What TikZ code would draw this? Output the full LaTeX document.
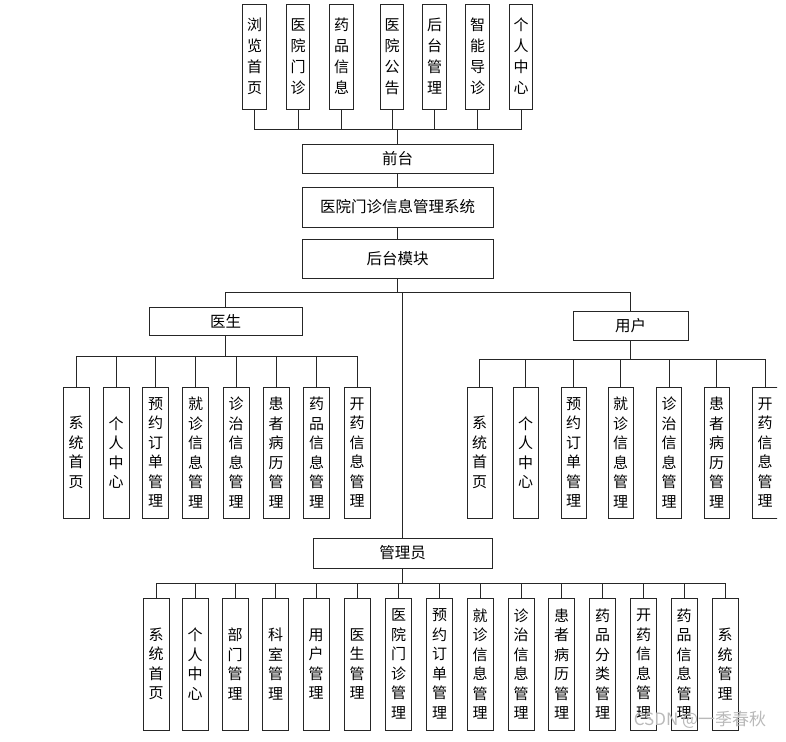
\documentclass[tikz,border=0pt]{standalone}
\usepackage{fontspec}
\newfontfamily\cjk{Noto Sans CJK SC}
\begin{document}
\begin{tikzpicture}[x=1pt,y=-1pt,
  line/.style={draw=black!85, line width=0.9pt},
  hbox/.style={draw=black!85, line width=0.9pt, inner sep=0pt, align=center, font=\cjk\fontsize{15.5}{18}\selectfont},
  vtop/.style={draw=black!85, line width=0.9pt, inner sep=0pt, minimum width=23.5, minimum height=105, align=center, font=\cjk\fontsize{15}{21}\selectfont},
  vkid/.style={draw=black!85, line width=0.9pt, inner sep=0pt, minimum width=26, minimum height=131, align=center, font=\cjk\fontsize{15}{19.5}\selectfont},
  wmark/.style={text=gray!55, font=\cjk\fontsize{17}{20}\selectfont, inner sep=0pt}
]
\useasboundingbox (0,0) rectangle (786,741);

% top row
\node[vtop] (t1) at (254.5,56.5) {浏\\览\\首\\页};
\node[vtop] (t2) at (298,56.5) {医\\院\\门\\诊};
\node[vtop] (t3) at (341.5,56.5) {药\\品\\信\\息};
\node[vtop] (t4) at (392,56.5) {医\\院\\公\\告};
\node[vtop] (t5) at (434.5,56.5) {后\\台\\管\\理};
\node[vtop] (t6) at (477.5,56.5) {智\\能\\导\\诊};
\node[vtop] (t7) at (521,56.5) {个\\人\\中\\心};

% main column
\node[hbox, minimum width=191, minimum height=29] (qt) at (397.5,158.5) {前台};
\node[hbox, minimum width=191, minimum height=40] (sys) at (397.5,207) {医院门诊信息管理系统};
\node[hbox, minimum width=191, minimum height=39] (ht) at (397.5,258.5) {后台模块};

\coordinate (tb) at (397.5,129);
\foreach \n in {t1,t2,t3,t4,t5,t6,t7} \draw[line] (tb) -| (\n.south);
\draw[line] (tb) -- (qt.north);
\draw[line] (qt.south) -- (sys.north);
\draw[line] (sys.south) -- (ht.north);

% second level
\node[hbox, minimum width=153, minimum height=28] (doc) at (225.5,321) {医生};
\node[hbox, minimum width=115, minimum height=29] (usr) at (630.5,325.5) {用户};
\node[hbox, minimum width=179, minimum height=30] (adm) at (402.5,553) {管理员};

\coordinate (hb) at (397.5,293);
\draw[line] (ht.south) -- (hb);
\draw[line] (doc.north) -- ++(0,-14) -| (usr.north);
\draw[line] (adm.north) -- (adm.north |- hb);

% doctor children
\node[vkid] (d1) at (76,452.5) {系\\统\\首\\页};
\node[vkid] (d2) at (116,452.5) {个\\人\\中\\心};
\node[vkid] (d3) at (155.5,452.5) {预\\约\\订\\单\\管\\理};
\node[vkid] (d4) at (195.5,452.5) {就\\诊\\信\\息\\管\\理};
\node[vkid] (d5) at (236,452.5) {诊\\治\\信\\息\\管\\理};
\node[vkid] (d6) at (276,452.5) {患\\者\\病\\历\\管\\理};
\node[vkid] (d7) at (316.5,452.5) {药\\品\\信\\息\\管\\理};
\node[vkid] (d8) at (357,452.5) {开\\药\\信\\息\\管\\理};
\coordinate (db) at (225.5,356);
\draw[line] (doc.south) -- (db);
\foreach \n in {d1,d2,d3,d4,d5,d6,d7,d8} \draw[line] (db) -| (\n.north);

% user children
\node[vkid, minimum width=25] (u1) at (479.5,452.5) {系\\统\\首\\页};
\node[vkid, minimum width=25] (u2) at (525.5,452.5) {个\\人\\中\\心};
\node[vkid, minimum width=25] (u3) at (573.5,452.5) {预\\约\\订\\单\\管\\理};
\node[vkid, minimum width=25] (u4) at (620.5,452.5) {就\\诊\\信\\息\\管\\理};
\node[vkid, minimum width=25] (u5) at (669,452.5) {诊\\治\\信\\息\\管\\理};
\node[vkid, minimum width=25] (u6) at (716.5,452.5) {患\\者\\病\\历\\管\\理};
\begin{scope}
\clip (0,0) rectangle (777,741);
\node[vkid, minimum width=26] (u7) at (765,452.5) {开\\药\\信\\息\\管\\理};
\end{scope}
\coordinate (ub) at (630.5,359);
\draw[line] (usr.south) -- (ub);
\foreach \n in {u1,u2,u3,u4,u5,u6,u7} \draw[line] (ub) -| (\n.north);

% admin children
\node[vkid, minimum height=132] (a1) at (156,664) {系\\统\\首\\页};
\node[vkid, minimum height=132] (a2) at (195,664) {个\\人\\中\\心};
\node[vkid, minimum height=132] (a3) at (235,664) {部\\门\\管\\理};
\node[vkid, minimum height=132] (a4) at (275.5,664) {科\\室\\管\\理};
\node[vkid, minimum height=132] (a5) at (316,664) {用\\户\\管\\理};
\node[vkid, minimum height=132] (a6) at (357,664) {医\\生\\管\\理};
\node[vkid, minimum height=132] (a7) at (398.5,664) {医\\院\\门\\诊\\管\\理};
\node[vkid, minimum height=132] (a8) at (439.5,664) {预\\约\\订\\单\\管\\理};
\node[vkid, minimum height=132] (a9) at (480,664) {就\\诊\\信\\息\\管\\理};
\node[vkid, minimum height=132] (a10) at (521,664) {诊\\治\\信\\息\\管\\理};
\node[vkid, minimum height=132] (a11) at (561.5,664) {患\\者\\病\\历\\管\\理};
\node[vkid, minimum height=132] (a12) at (602.5,664) {药\\品\\分\\类\\管\\理};
\node[vkid, minimum height=132] (a13) at (643.5,664) {开\\药\\信\\息\\管\\理};
\node[vkid, minimum height=132] (a14) at (684,664) {药\\品\\信\\息\\管\\理};
\node[vkid, minimum height=132] (a15) at (725,664) {系\\统\\管\\理};
\coordinate (ab) at (402.5,583);
\draw[line] (adm.south) -- (ab);
\foreach \n in {a1,a2,a3,a4,a5,a6,a7,a8,a9,a10,a11,a12,a13,a14,a15} \draw[line] (ab) -| (\n.north);

% watermark
\node[wmark] (wm) at (700,720) {CSDN @一季春秋};
\end{tikzpicture}
\end{document}
